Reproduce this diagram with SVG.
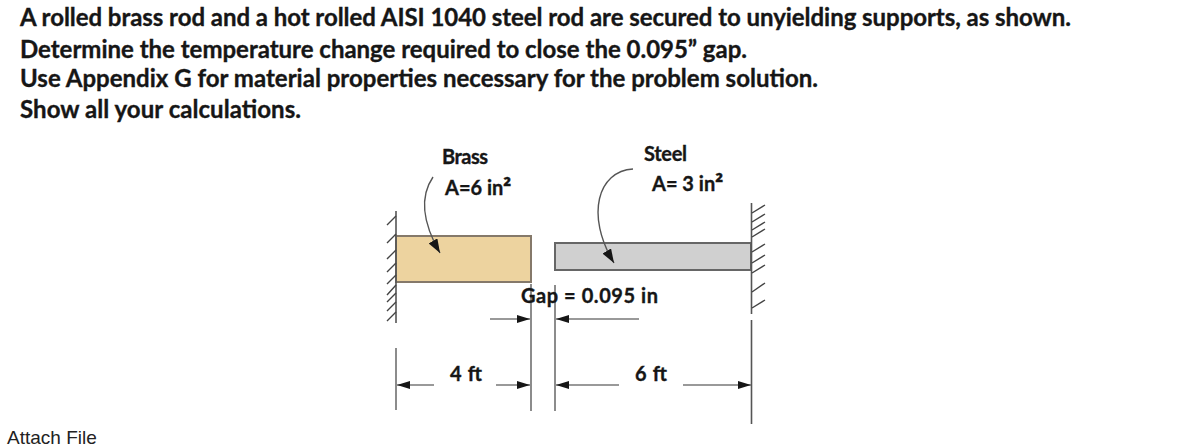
<svg xmlns="http://www.w3.org/2000/svg" width="1187" height="448" viewBox="0 0 1187 448">
<style>
text{font-family:"Lato","Liberation Sans",sans-serif;font-weight:700;fill:#161616;stroke:#161616;stroke-width:.35}
.q{font-size:24px}
.l{font-size:20px}
.sup{font-family:"Open Sans",sans-serif;font-size:21px}
.att{font-family:"Liberation Sans",sans-serif;font-weight:400;font-size:19px;fill:#222;stroke:none}
.wall{stroke:#555;stroke-width:1.6;fill:none}
.hatch{stroke:#444;stroke-width:1.4;fill:none}
.ext{stroke:#8c8c8c;stroke-width:2;fill:none}
.dim{stroke:#777;stroke-width:1.6;fill:none}
.lead{stroke:#555;stroke-width:1.4;fill:none}
</style>
<defs>
<marker id="a" viewBox="0 0 13 8" refX="13" refY="4" markerWidth="13" markerHeight="8" markerUnits="userSpaceOnUse" orient="auto"><path d="M0 0L13 4L0 8Z" fill="#161616"/></marker>
<marker id="b" viewBox="0 0 14 10" refX="14" refY="5" markerWidth="14" markerHeight="10" markerUnits="userSpaceOnUse" orient="auto"><path d="M0 0L14 5L0 10Z" fill="#161616"/></marker>
</defs>
<rect width="1187" height="448" fill="#fff"/>
<g id="question">
<text class="q" x="20" y="26" textLength="1051">A rolled brass rod and a hot rolled AISI 1040 steel rod are secured to unyielding supports, as shown.</text>
<text class="q" x="20" y="58" textLength="727">Determine the temperature change required to close the 0.095” gap.</text>
<text class="q" x="20" y="87" textLength="798">Use Appendix G for material properties necessary for the problem solution.</text>
<text class="q" x="20" y="118" textLength="281">Show all your calculations.</text>
</g>
<text class="att" x="7" y="444">Attach File</text>
<g id="brass-rod"><rect x="396" y="236" width="135" height="46" fill="#edd39f" stroke="#85796a" stroke-width="2"/></g>
<g id="steel-rod"><rect x="555" y="243" width="196" height="27" fill="#d0d0d0" stroke="#666" stroke-width="2"/></g>
<g id="left-wall">
<path class="wall" d="M396 211V323"/>
<path class="hatch" d="M396 216l-9 9M396 234l-9 9M396 250l-9 9M396 263l-9 9M396 275l-9 9M396 285l-9 10M396 293l-9 9M396 302l-9 9M396 312l-9 9"/>
</g>
<g id="right-wall">
<path class="wall" d="M751.5 203V314M751.5 320V424"/>
<path class="hatch" d="M752 213l13-8M752 222l13-8M752 230l13-8M752 237l13-8M752 252l13-8M752 263l13-8M752 273l13-8M752 292l13-9M752 308l13-8"/>
</g>
<g id="connectors">
<path class="lead" d="M433 177C420 196 421 220 440 253" marker-end="url(#b)"/>
<path class="lead" d="M633 169C598 171 585 215 614 263" marker-end="url(#b)"/>
<path class="ext" d="M531 284V411M555 285V411M396 348V410"/>
<path class="dim" d="M490 319H530" marker-end="url(#a)"/>
<path class="dim" d="M639 319H556" marker-end="url(#a)"/>
<path class="dim" d="M434 385H397" marker-end="url(#a)"/>
<path class="dim" d="M496 385H530" marker-end="url(#a)"/>
<path class="dim" d="M619 385H556" marker-end="url(#a)"/>
<path class="dim" d="M683 385H751" marker-end="url(#a)"/>
</g>
<g id="labels">
<text class="l" x="442" y="164" textLength="46">Brass</text>
<text class="l" x="445" y="195">A=6 in<tspan class="sup">²</tspan></text>
<text class="l" x="644" y="161" textLength="43">Steel</text>
<text class="l" x="652" y="191">A= 3 in<tspan class="sup">²</tspan></text>
<text class="l" x="521" y="303" textLength="137">Gap = 0.095 in</text>
<text class="l" x="450" y="381" textLength="32">4 ft</text>
<text class="l" x="635" y="381" textLength="32">6 ft</text>
</g>
</svg>
